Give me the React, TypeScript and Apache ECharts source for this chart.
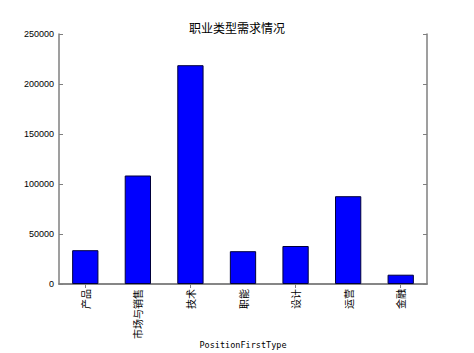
import React, { useEffect, useRef } from "react";
import * as echarts from "echarts";

const categories = ["产品", "市场与销售", "技术", "职能", "设计", "运营", "金融"];
const values = [33800, 108500, 218800, 32800, 38000, 87800, 9300];
const yTicks = { min: 0, max: 250000, interval: 50000 };

export default function App() {
  const ref = useRef<HTMLDivElement>(null);
  useEffect(() => {
    if (!ref.current) return;
    const chart = echarts.init(ref.current, null, { renderer: "svg" });
    const axisLine = { show: true, lineStyle: { color: "#7f7f7f", width: 1.5 } };
    chart.setOption({
      animation: false,
      backgroundColor: "#fff",
      title: {
        text: "职业类型需求情况",
        left: "center",
        top: 16,
        textStyle: { fontFamily: "Noto Sans CJK SC", fontSize: 12, fontWeight: "normal", color: "#000" },
      },
      grid: { left: 59, right: 47, top: 34, bottom: 69, containLabel: false, outerBoundsMode: "none" },
      xAxis: [
        {
          type: "category",
          data: categories,
          position: "bottom",
          boundaryGap: true,
          axisLine,
          axisTick: { show: true, inside: true, alignWithLabel: true, length: 4, lineStyle: { color: "#7f7f7f" } },
          axisLabel: {
            rotate: 90,
            margin: 5,
            fontSize: 10,
            color: "#000",
            fontFamily: "Noto Sans CJK SC",
          },
          name: "PositionFirstType",
          nameLocation: "middle",
          nameGap: 56,
          nameMoveOverlap: false,
          nameTextStyle: { fontFamily: "DejaVu Sans Mono", fontSize: 8.5, color: "#000" },
          splitLine: { show: false },
        },
        {
          type: "category",
          data: categories,
          position: "top",
          boundaryGap: true,
          axisLine,
          axisTick: { show: true, inside: true, alignWithLabel: true, length: 4, lineStyle: { color: "#7f7f7f" } },
          axisLabel: { show: false },
          splitLine: { show: false },
        },
      ],
      yAxis: [
        {
          type: "value",
          min: yTicks.min,
          max: yTicks.max,
          interval: yTicks.interval,
          position: "left",
          axisLine,
          axisTick: { show: true, inside: true, length: 4, lineStyle: { color: "#7f7f7f" } },
          axisLabel: {
            margin: 5,
            fontSize: 9,
            color: "#000",
            fontFamily: "Liberation Sans",
            formatter: (v: number) => String(v),
          },
          splitLine: { show: false },
        },
        {
          type: "value",
          min: yTicks.min,
          max: yTicks.max,
          interval: yTicks.interval,
          position: "right",
          axisLine,
          axisTick: { show: true, inside: true, length: 4, lineStyle: { color: "#7f7f7f" } },
          axisLabel: { show: false },
          splitLine: { show: false },
        },
      ],
      series: [
        {
          type: "bar",
          data: values,
          xAxisIndex: 0,
          yAxisIndex: 0,
          barWidth: "50%",
          itemStyle: { color: "#0000ff", borderColor: "#00003a", borderWidth: 1 },
        },
      ],
    });
    return () => chart.dispose();
  }, []);
  return <div ref={ref} style={{ width: 474, height: 353, position: "absolute", left: 0, top: 0 }} />;
}
